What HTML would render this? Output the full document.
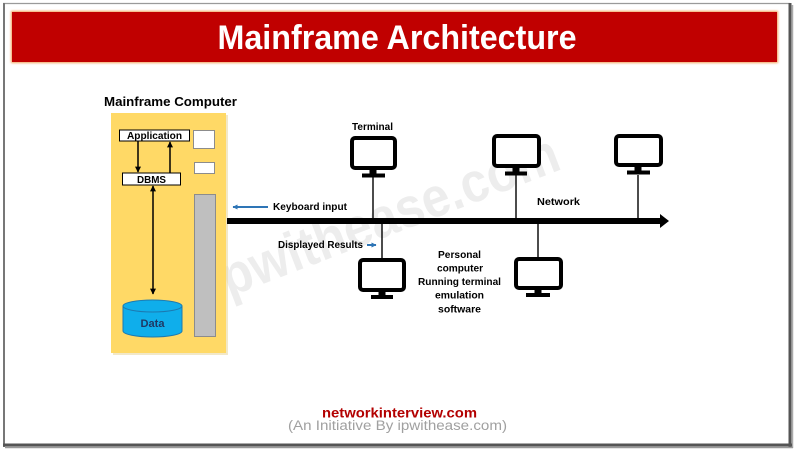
<!DOCTYPE html>
<html><head><meta charset="utf-8"><style>
html,body{margin:0;padding:0;background:#fff;}
svg{display:block;}
text{font-family:"Liberation Sans",Arial,sans-serif;}
</style></head><body>
<svg width="800" height="455" viewBox="0 0 800 455" xmlns="http://www.w3.org/2000/svg">
<defs>
<filter id="glow" x="-5%" y="-30%" width="110%" height="160%">
<feGaussianBlur in="SourceAlpha" stdDeviation="1.5"/>
<feFlood flood-color="#f2a15c"/>
<feComposite operator="in" in2="SourceAlpha"/>
<feMorphology operator="dilate" radius="1"/>
<feGaussianBlur stdDeviation="1"/>
<feMerge><feMergeNode/><feMergeNode in="SourceGraphic"/></feMerge>
</filter>
<marker id="ah" viewBox="0 0 10 10" refX="9" refY="5" markerWidth="6" markerHeight="6" orient="auto-start-reverse" markerUnits="userSpaceOnUse">
<path d="M0,0 L10,5 L0,10 z" fill="#000"/>
</marker>
<marker id="bh" viewBox="0 0 10 10" refX="9" refY="5" markerWidth="5" markerHeight="5" orient="auto" markerUnits="userSpaceOnUse">
<path d="M0,0 L10,5 L0,10 z" fill="#2E75B6"/>
</marker>
</defs>

<rect width="800" height="455" fill="#fff"/>

<!-- frame -->
<line x1="3" y1="3.5" x2="790" y2="3.5" stroke="#9a9a9a" stroke-width="1.2"/>
<line x1="4" y1="3" x2="4" y2="447" stroke="#777" stroke-width="2"/>
<line x1="790" y1="3" x2="790" y2="447" stroke="#555" stroke-width="3"/>
<line x1="792.5" y1="5" x2="792.5" y2="448" stroke="#aaa" stroke-width="1.5"/>
<line x1="3" y1="445" x2="792" y2="445" stroke="#555" stroke-width="3"/>
<line x1="5" y1="447.5" x2="793" y2="447.5" stroke="#999" stroke-width="1.5"/>

<!-- title bar -->
<rect x="12" y="12" width="765" height="50" fill="#C00000" filter="url(#glow)"/>
<text x="397" y="49" font-size="34" font-weight="bold" fill="#fff" text-anchor="middle" textLength="359" lengthAdjust="spacingAndGlyphs">Mainframe Architecture</text>

<!-- watermark -->
<text x="0" y="0" transform="translate(216,302) rotate(-21)" font-size="56" font-weight="bold" fill="#000" fill-opacity="0.07" textLength="372" lengthAdjust="spacingAndGlyphs">ipwithease.com</text>

<!-- Mainframe computer -->
<text x="104" y="106" font-size="12.5" font-weight="bold" fill="#000" textLength="133" lengthAdjust="spacingAndGlyphs">Mainframe Computer</text>
<rect x="113" y="115" width="115" height="240" fill="#e9d9a4" opacity="0.6"/>
<rect x="111" y="113" width="115" height="240" fill="#FFD966"/>

<rect x="119.5" y="130" width="70" height="11" fill="#fff" stroke="#000" stroke-width="1"/>
<text x="154.5" y="139" font-size="10" font-weight="bold" text-anchor="middle" textLength="55" lengthAdjust="spacingAndGlyphs">Application</text>

<rect x="122.5" y="173" width="58" height="12" fill="#fff" stroke="#000" stroke-width="1"/>
<text x="151.5" y="183" font-size="10" font-weight="bold" text-anchor="middle" textLength="29" lengthAdjust="spacingAndGlyphs">DBMS</text>

<rect x="193.5" y="130.5" width="21" height="18" fill="#fff" stroke="#8c8c8c" stroke-width="1"/>
<rect x="194.5" y="162.5" width="20" height="11" fill="#fff" stroke="#8c8c8c" stroke-width="1"/>
<rect x="194.5" y="194.5" width="21" height="142" fill="#BFBFBF" stroke="#8c8c8c" stroke-width="1"/>

<line x1="138" y1="141" x2="138" y2="172" stroke="#000" stroke-width="1.5" marker-end="url(#ah)"/>
<line x1="170" y1="173" x2="170" y2="142" stroke="#000" stroke-width="1.5" marker-end="url(#ah)"/>
<line x1="153" y1="186" x2="153" y2="294" stroke="#000" stroke-width="1.5" marker-start="url(#ah)" marker-end="url(#ah)"/>

<!-- cylinder -->
<path d="M123,306 L123,331 A29.5,6 0 0 0 182,331 L182,306" fill="#0FAEEB" stroke="#1C79B0" stroke-width="1"/>
<ellipse cx="152.5" cy="306" rx="29.5" ry="6" fill="#0FAEEB" stroke="#1C79B0" stroke-width="1"/>
<text x="152.5" y="327" font-size="11" font-weight="bold" fill="#1F3864" text-anchor="middle" textLength="24" lengthAdjust="spacingAndGlyphs">Data</text>

<!-- network line -->
<rect x="227" y="218" width="436" height="6" fill="#000"/>
<path d="M660,214 L669,221 L660,228 z" fill="#000"/>

<!-- blue arrows -->
<line x1="268" y1="207" x2="233" y2="207" stroke="#2E75B6" stroke-width="2" marker-end="url(#bh)"/>
<text x="273" y="210" font-size="10.5" font-weight="bold" textLength="74" lengthAdjust="spacingAndGlyphs">Keyboard input</text>
<line x1="367" y1="245" x2="376" y2="245" stroke="#2E75B6" stroke-width="2" marker-end="url(#bh)"/>
<text x="278" y="248" font-size="10.5" font-weight="bold" textLength="85" lengthAdjust="spacingAndGlyphs">Displayed Results</text>

<text x="537" y="205" font-size="10.5" font-weight="bold" textLength="43" lengthAdjust="spacingAndGlyphs">Network</text>
<text x="352" y="130" font-size="10.5" font-weight="bold" textLength="41" lengthAdjust="spacingAndGlyphs">Terminal</text>

<!-- connectors -->
<g stroke="#000" stroke-width="1.4">
<line x1="373" y1="177" x2="373" y2="219"/>
<line x1="516" y1="175" x2="516" y2="219"/>
<line x1="638" y1="175" x2="638" y2="219"/>
<line x1="382" y1="223" x2="382" y2="259"/>
<line x1="538" y1="223" x2="538" y2="258"/>
</g>

<!-- monitors -->
<g fill="#fff" stroke="#000" stroke-width="4">
<rect x="352" y="138" width="43" height="30" rx="3"/>
<rect x="494" y="136" width="45" height="30" rx="3"/>
<rect x="616" y="136" width="45" height="29" rx="3"/>
<rect x="360" y="260" width="44" height="30" rx="3"/>
<rect x="516" y="259" width="45" height="29" rx="3"/>
</g>
<g fill="#000">
<rect x="369.5" y="170" width="7" height="4"/><rect x="362" y="173.5" width="23" height="4"/>
<rect x="512.5" y="168" width="7" height="4"/><rect x="505" y="171.5" width="22" height="4"/>
<rect x="634.5" y="167" width="7" height="4"/><rect x="627" y="170.5" width="23" height="4"/>
<rect x="378.5" y="292" width="7" height="4"/><rect x="371" y="295" width="22" height="4"/>
<rect x="534.5" y="290" width="7" height="4"/><rect x="526" y="293" width="24" height="4"/>
</g>

<!-- PC text -->
<g font-size="10.5" font-weight="bold" text-anchor="middle">
<text x="459.5" y="258" textLength="43" lengthAdjust="spacingAndGlyphs">Personal</text>
<text x="460" y="271.5" textLength="46" lengthAdjust="spacingAndGlyphs">computer</text>
<text x="459.5" y="285" textLength="83" lengthAdjust="spacingAndGlyphs">Running terminal</text>
<text x="459.5" y="298.5" textLength="49" lengthAdjust="spacingAndGlyphs">emulation</text>
<text x="459.5" y="312.5" textLength="43" lengthAdjust="spacingAndGlyphs">software</text>
</g>

<!-- footer -->
<text x="399.5" y="417.5" font-size="13.5" font-weight="bold" fill="#B30000" text-anchor="middle" textLength="155" lengthAdjust="spacingAndGlyphs">networkinterview.com</text>
<text x="397.5" y="430" font-size="13.5" fill="#A0A0A0" text-anchor="middle" textLength="219" lengthAdjust="spacingAndGlyphs">(An Initiative By ipwithease.com)</text>
</svg>
</body></html>
